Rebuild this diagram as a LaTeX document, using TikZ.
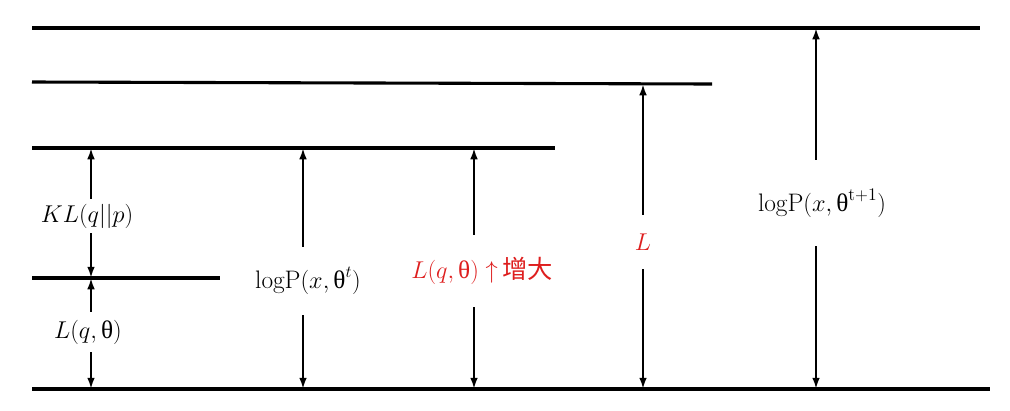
\documentclass[tikz,border=0pt]{standalone}
\usepackage{amsmath}
\usepackage{fontspec}
\newfontfamily\cjk{Noto Sans CJK SC}
\newfontfamily\grk{Liberation Serif}
\usetikzlibrary{arrows.meta}
\definecolor{gain}{RGB}{222,30,30}
\newcommand{\thet}{\text{\grk θ}}

\begin{document}
\begin{tikzpicture}[x=0.025cm,y=-0.025cm,
	level/.style={line width=2.2pt},
	arr/.style={line width=1.8pt,-{Latex[length=8pt,width=5.5pt]}},
	lab/.style={font=\fontsize{18}{20}\selectfont,inner sep=0pt,fill=white}]
	
	\useasboundingbox (0,0) rectangle (1010,410);
	
	
	\draw[level] (32,28) -- (980,28);
	\draw[level] (32,82) -- (712,84);
	\draw[level] (32,148) -- (555,148);
	\draw[level] (32,278) -- (220,278);
	\draw[level] (32,389) -- (990,389);
	
	\coordinate (a) at (91,148);
	\coordinate (b) at (91,278);
	\coordinate (c) at (91,389);
	\coordinate (d) at (303,148);
	\coordinate (e) at (303,389);
	\coordinate (f) at (474,148);
	\coordinate (g) at (474,389);
	\coordinate (h) at (643,84);
	\coordinate (i) at (643,389);
	\coordinate (j) at (816,28);
	\coordinate (k) at (816,389);
	
	\node[lab,minimum height=0.85cm] (kl) at (87,216) {\(KL(q||p)\)};
	
	\node[lab,minimum height=1cm] (lq) at (88,332) {\(L(q,\thet)\)};
	
	\node[lab,minimum height=1.7cm] (pt) at (308,281) {\(\mathrm{logP}(x,\thet^{t})\)};
	
	\node[lab,minimum height=1.8cm,text=gain] (lg) at (482,271) {\(L(q,\thet)\uparrow\)\,{\cjk 增大}};
	
	\node[lab,minimum height=1.35cm,text=gain] (ll) at (643,242) {\(L\)};
	
	\node[lab,minimum height=2.15cm] (pn) at (822,203) {\(\mathrm{logP}(x,\thet^{\mathrm{t+1}})\)};
	
	\draw[arr] (kl.north -| a) -- (a);
	\draw[arr] (kl.south -| b) -- (b);
	\draw[arr] (lq.north -| b) -- (b);
	\draw[arr] (lq.south -| c) -- (c);
	\draw[arr] (pt.north -| d) -- (d);
	\draw[arr] (pt.south -| e) -- (e);
	\draw[arr] (lg.north -| f) -- (f);
	\draw[arr] (lg.south -| g) -- (g);
	\draw[arr] (ll.north -| h) -- (h);
	\draw[arr] (ll.south -| i) -- (i);
	\draw[arr] (pn.north -| j) -- (j);
	\draw[arr] (pn.south -| k) -- (k);
	
\end{tikzpicture}
\end{document}
